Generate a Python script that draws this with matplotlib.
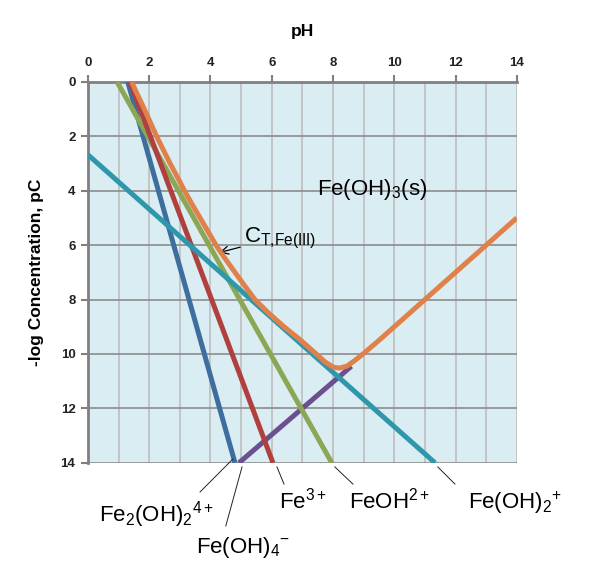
import numpy as np
import matplotlib
matplotlib.use("Agg")
import matplotlib.pyplot as plt

plt.rcParams["font.family"] = ["Liberation Sans", "DejaVu Sans"]
plt.rcParams["mathtext.fontset"] = "custom"
plt.rcParams["mathtext.rm"] = "Liberation Sans"
plt.rcParams["mathtext.it"] = "Liberation Sans:italic"
plt.rcParams["mathtext.default"] = "regular"

# straight species lines: (pH, pC) end points
fe3_ph = [1.37, 6.04]
fe3_pc = [0.0, 14.0]
feoh_ph = [0.95, 7.96]
feoh_pc = [0.0, 14.0]
feoh2_ph = [0.0, 11.33]
feoh2_pc = [2.68, 14.0]
feoh4_ph = [4.93, 8.6]
feoh4_pc = [14.0, 10.45]
dimer_ph = [1.3, 4.8]
dimer_pc = [0.0, 14.0]

# total soluble Fe(III), C_T,Fe(III)
total_ph = [1.42, 1.63, 1.84, 2.04, 2.24, 2.46, 2.68, 2.92, 3.15, 3.4, 3.66,
            3.92, 4.18, 4.48, 4.8, 5.12, 5.45, 5.9, 6.4, 6.95, 7.45, 7.75,
            8.0, 8.2, 8.45, 8.7, 9.0, 9.5, 10.0, 11.0, 12.0, 13.0, 14.0]
total_pc = [0.0, 0.5, 1.0, 1.5, 2.0, 2.5, 3.0, 3.5, 4.0, 4.5, 5.0,
            5.5, 6.0, 6.5, 7.0, 7.5, 8.0, 8.5, 9.0, 9.5, 10.0, 10.3,
            10.48, 10.52, 10.45, 10.25, 9.98, 9.5, 9.0, 8.0, 7.0, 6.0, 5.0]

COLORS = {
    "dimer": "#3D6E9E",
    "fe3":   "#B0403E",
    "feoh":  "#8BA655",
    "feoh2": "#2F97AB",
    "feoh4": "#6B4F8E",
    "total": "#E0804A",
}

fig = plt.figure(figsize=(5.9, 5.8), dpi=100)
ax = fig.add_axes([0.149, 0.202, 0.727, 0.657])
ax.set_facecolor("#DAEDF2")

lw = 3.6
ax.plot(feoh4_ph, feoh4_pc, color=COLORS["feoh4"], lw=lw, solid_capstyle="butt", zorder=3)
ax.plot(dimer_ph, dimer_pc, color=COLORS["dimer"], lw=lw, solid_capstyle="butt", zorder=3)
ax.plot(feoh_ph, feoh_pc, color=COLORS["feoh"], lw=lw, solid_capstyle="butt", zorder=3)
ax.plot(fe3_ph, fe3_pc, color=COLORS["fe3"], lw=lw, solid_capstyle="butt", zorder=3)
ax.plot(feoh2_ph, feoh2_pc, color=COLORS["feoh2"], lw=lw, solid_capstyle="butt", zorder=3)
ax.plot(total_ph, total_pc, color=COLORS["total"], lw=lw, solid_capstyle="butt",
        solid_joinstyle="round", zorder=4)

ax.set_xlim(0, 14)
ax.set_ylim(14, 0)

# grid: vertical every 1 pH, horizontal every 2 pC
for xv in range(1, 15):
    ax.axvline(xv, color="#BFBFBF", lw=1.2, zorder=1)
for yv in range(2, 15, 2):
    ax.axhline(yv, color="#8C8C8C", lw=1.2, zorder=1)

ax.xaxis.tick_top()
ax.set_xticks(range(0, 15, 2))
ax.set_yticks(range(0, 15, 2))
ax.tick_params(axis="both", length=5, width=1.5, color="#808080", labelsize=9.5,
               labelcolor="#222222", pad=4)
for lab in ax.get_xticklabels() + ax.get_yticklabels():
    lab.set_fontweight("bold")
for side in ["right", "bottom"]:
    ax.spines[side].set_visible(False)
for side in ["left", "top"]:
    ax.spines[side].set_color("#808080")
    ax.spines[side].set_linewidth(2)

ax.set_xlabel("pH", fontsize=12.5, fontweight="bold", labelpad=15)
ax.xaxis.set_label_position("top")
ax.set_ylabel("-log Concentration, pC", fontsize=12.5, fontweight="bold", labelpad=12)

fs = 16
ax.text(9.27, 3.97, "Fe(OH)$_3$(s)", fontsize=fs, ha="center", va="center")
ax.text(5.1, 5.75, "C$_{T{,}Fe(III)}$", fontsize=fs, ha="left", va="center")
ax.annotate("", xy=(4.2, 6.3), xytext=(5.06, 6.05),
            arrowprops=dict(arrowstyle="->", color="black", lw=0.9,
                            mutation_scale=14))

# species labels under the chart
leaders = [
    ((4.73, 13.86), (3.66, 15.07)),
    ((5.03, 14.15), (4.50, 16.32)),
    ((6.17, 14.15), (6.40, 14.78)),
    ((8.06, 14.15), (8.65, 14.78)),
    ((11.42, 14.15), (11.98, 14.78)),
]
for (x0, y0), (x1, y1) in leaders:
    ax.plot([x0, x1], [y0, y1], color="#222222", lw=0.7, clip_on=False, zorder=5)

ax.text(2.25, 15.9, "Fe$_2$(OH)$_2$$^{4+}$", fontsize=fs, ha="center", va="center")
ax.text(5.06, 17.1, "Fe(OH)$_4$$^{-}$", fontsize=fs, ha="center", va="center")
ax.text(7.02, 15.37, "Fe$^{3+}$", fontsize=fs, ha="center", va="center")
ax.text(9.86, 15.37, "FeOH$^{2+}$", fontsize=fs, ha="center", va="center")
ax.text(13.94, 15.48, "Fe(OH)$_2$$^{+}$", fontsize=fs, ha="center", va="center")

fig.savefig("out.png", dpi=100, facecolor="white")
